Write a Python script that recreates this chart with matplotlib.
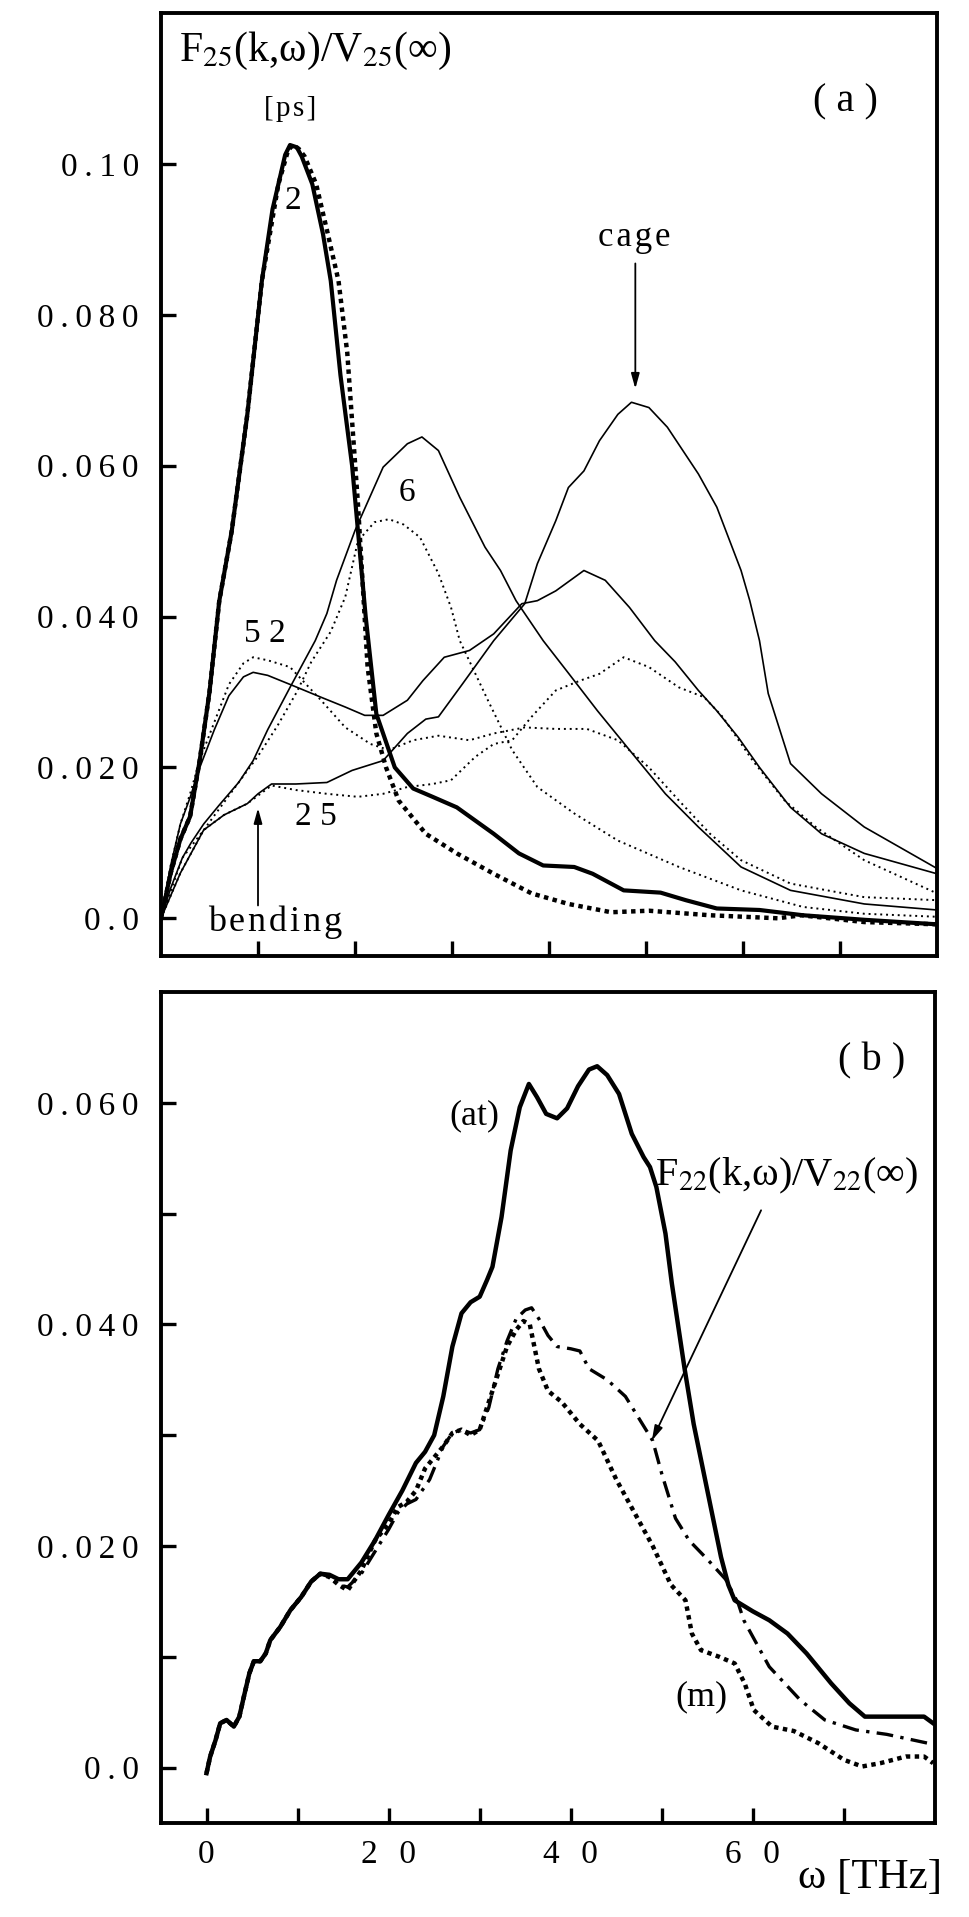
import matplotlib
matplotlib.use("Agg")
import matplotlib.pyplot as plt

plt.rcParams['font.family'] = ['Liberation Serif', 'DejaVu Serif']
plt.rcParams['mathtext.fontset'] = 'stix'

# ---------------- panel (a) data ----------------
a_solid2_x = [0, 1, 2, 3, 4, 5, 6, 7.3, 8.9, 10.4, 11.5, 12.1, 12.8, 13.3, 14, 14.5, 15.6, 16.7, 17.5, 18.5,
              19.7, 21.1, 22.2, 24.1, 26, 28, 30.5, 34.3, 36.9, 39.4, 42.6, 44.5, 47.7, 51.5, 54.1, 57.3,
              61.7, 66.2, 72.5, 80]
a_solid2_y = [0, 0.006, 0.0105, 0.0135, 0.021, 0.030, 0.042, 0.0514, 0.0668, 0.0845, 0.094, 0.0973, 0.1012,
              0.1025, 0.1022, 0.101, 0.0973, 0.0907, 0.0845, 0.072, 0.060, 0.040, 0.0271, 0.020, 0.0172,
              0.0161, 0.0147, 0.0112, 0.0086, 0.0070, 0.0068, 0.0059, 0.0037, 0.0034, 0.0024, 0.0013,
              0.0011, 0.0004, -0.0002, -0.0008]
a_dot2_x = [0, 1, 2, 3, 4, 5, 6, 7.3, 8.9, 10.4, 12.1, 13.1, 13.6, 14.2, 14.8, 16, 17.2, 18.3, 19.2, 20.3,
            21.3, 22.2, 23.2, 24.5, 27.3, 30.5, 34.3, 38.2, 42, 46.4, 50.3, 56.6, 63.6, 66, 72.5, 80]
a_dot2_y = [0, 0.006, 0.0105, 0.0135, 0.021, 0.030, 0.042, 0.0514, 0.0668, 0.0845, 0.0973, 0.1018, 0.1025,
            0.1020, 0.101, 0.0973, 0.0907, 0.0845, 0.075, 0.055, 0.0333, 0.0245, 0.020, 0.0156, 0.0112,
            0.0086, 0.0059, 0.0033, 0.0019, 0.0008, 0.001, 0.0004, 0.0, 0.0004, -0.0005, -0.0008]
a_solid6_x = [0, 1, 2.2, 3.1, 4.4, 6, 8, 9.5, 11, 13.3, 15.9, 17.1, 18.1, 20, 22.9, 25.4, 26.9, 28.6, 30.8,
              33.4, 35, 36.6, 39.4, 42, 45, 48.3, 52, 55.4, 59.8, 64.9, 72.5, 80]
a_solid6_y = [0, 0.004, 0.008, 0.010, 0.0125, 0.015, 0.018, 0.0209, 0.025, 0.0306, 0.0368, 0.0404, 0.0448,
              0.0514, 0.0598, 0.0629, 0.0638, 0.062, 0.0558, 0.0492, 0.0461, 0.0421, 0.0368, 0.0325,
              0.0275, 0.0223, 0.0165, 0.0121, 0.0068, 0.0037, 0.0019, 0.0011]
a_dot6_x = [0, 2.2, 4.4, 6, 8, 10, 12, 14, 15.5, 17.5, 19, 20.3, 22, 23.5, 25, 26.7, 28.6, 29.9, 30.8, 33.7,
            36.2, 38.8, 42.6, 47.1, 53.4, 59.8, 66.2, 72.5, 80]
a_dot6_y = [0, 0.008, 0.0117, 0.0145, 0.018, 0.0215, 0.0255, 0.030, 0.034, 0.038, 0.0426, 0.050, 0.0525,
            0.0529, 0.0522, 0.0505, 0.0457, 0.0412, 0.0368, 0.0289, 0.0223, 0.0174, 0.0139, 0.0103,
            0.0068, 0.0037, 0.0015, 0.0006, 0.0002]
a_solid52_x = [0, 1, 2, 3, 4, 5.5, 7, 8.5, 9.5, 11, 13.3, 16.5, 19, 21, 22.9, 25.4, 27, 29.2, 31.8, 34.3,
               37.2, 38.8, 40.7, 43.6, 45.8, 48.3, 50.9, 53, 55.4, 57.3, 59.5, 61.7, 64.9, 68.1, 72.5, 80]
a_solid52_y = [0, 0.007, 0.0125, 0.016, 0.020, 0.025, 0.0295, 0.032, 0.0326, 0.0322, 0.031, 0.0293, 0.028,
               0.0269, 0.0269, 0.0289, 0.0315, 0.0346, 0.0355, 0.0377, 0.0417, 0.0421, 0.0434, 0.0461,
               0.0448, 0.0412, 0.0368, 0.034, 0.0302, 0.0275, 0.024, 0.020, 0.0147, 0.0112, 0.0086, 0.0059]
a_dot52_x = [0, 1, 2, 3, 4, 5.5, 7, 8.5, 9.5, 11, 13.3, 16.5, 19, 21.6, 23.5, 26, 28.6, 31.8, 34.3, 37.5,
             40.7, 43.9, 47.1, 50.3, 53.4, 56.6, 59.8, 64.9, 72.5, 80]
a_dot52_y = [0, 0.007, 0.0125, 0.0165, 0.021, 0.026, 0.031, 0.0338, 0.0346, 0.0342, 0.0333, 0.0289, 0.0253,
             0.0231, 0.0223, 0.0236, 0.0242, 0.0236, 0.0245, 0.0253, 0.0251, 0.0251, 0.0236, 0.020,
             0.0156, 0.0112, 0.0077, 0.0046, 0.0028, 0.0024]
a_solid25_x = [0, 2, 4.4, 6.5, 8.9, 10, 11.4, 13.9, 17.1, 19.7, 22.9, 25.4, 27.3, 28.6, 31.1, 34.3, 37.5,
               38.8, 40.7, 42, 43.6, 45.2, 47.1, 48.5, 50.3, 52.2, 55.4, 57.3, 59.8, 60.7, 61.7, 62.6,
               64.9, 68.1, 72.5, 80]
a_solid25_y = [0, 0.006, 0.0117, 0.0137, 0.0152, 0.0165, 0.0178, 0.0178, 0.018, 0.0196, 0.0209, 0.0245,
               0.0264, 0.0267, 0.0311, 0.0368, 0.0417, 0.047, 0.0527, 0.0571, 0.0593, 0.0633, 0.0668,
               0.0684, 0.0677, 0.0651, 0.0589, 0.0545, 0.0461, 0.0421, 0.0368, 0.0298, 0.0205, 0.0165,
               0.0121, 0.0066]
a_dot25_x = [0, 2, 4.4, 6.5, 8.9, 11.4, 13.9, 17.1, 20.3, 22.9, 25.4, 28, 29.9, 32.4, 34.3, 36.2, 38.2,
             40.7, 43.2, 45.2, 47.7, 50.3, 53.4, 56, 57.9, 61, 64.3, 67.5, 72.5, 80]
a_dot25_y = [0, 0.006, 0.0117, 0.0137, 0.0152, 0.0176, 0.017, 0.0165, 0.0161, 0.0165, 0.0174, 0.0178,
             0.0183, 0.0214, 0.0231, 0.0236, 0.0267, 0.0302, 0.0315, 0.0324, 0.0346, 0.0333, 0.0306,
             0.0293, 0.0267, 0.0209, 0.0156, 0.0121, 0.0077, 0.0033]

a_yticks = [0.0, 0.02, 0.04, 0.06, 0.08, 0.10]
a_yticklabels = ["0.0", "0.020", "0.040", "0.060", "0.080", "0.10"]
a_xticks = [10, 20, 30, 40, 50, 60, 70]

# ---------------- panel (b) data ----------------
b_common_x = [0, 0.4, 1, 1.5, 2.2, 3.0, 3.6, 4.1, 4.7, 5.2, 5.9, 6.5, 7.0, 8.1, 9.2, 10.4, 11.5, 12.5]
b_common_y = [-0.0005, 0.001, 0.0025, 0.004, 0.0043, 0.0037, 0.0046, 0.0064, 0.0085, 0.0096, 0.0096,
              0.0103, 0.0115, 0.0127, 0.0142, 0.0154, 0.0168, 0.0175]
b_at_x = [13.5, 14.5, 15.5, 17, 18.5, 20, 21.5, 23, 24, 25, 26, 27, 28, 29, 30, 30.8, 31.4, 32.4, 33.4,
          34.4, 35.4, 36.3, 37.3, 38.5, 39.6, 40.8, 42, 42.9, 44, 45.3, 46.7, 48, 48.7, 49.4, 50.4, 51.1,
          52.5, 53.5, 54.5, 55.5, 56.5, 57.3, 58, 60, 61.8, 63.8, 65.9, 68.6, 70.6, 72.3, 76.1, 78.8, 79.8]
b_at_y = [0.0174, 0.017, 0.017, 0.0185, 0.0205, 0.0228, 0.025, 0.0275, 0.0285, 0.030, 0.0335, 0.038,
          0.041, 0.042, 0.0425, 0.044, 0.0452, 0.0497, 0.0557, 0.0596, 0.0617, 0.0605, 0.059, 0.0586,
          0.0595, 0.0615, 0.063, 0.0633, 0.0625, 0.0608, 0.0572, 0.0551, 0.0542, 0.0524, 0.0482, 0.0437,
          0.036, 0.031, 0.027, 0.023, 0.019, 0.0165, 0.0151, 0.0141, 0.0133, 0.0121, 0.0103, 0.0076,
          0.0058, 0.0046, 0.0046, 0.0046, 0.004]
b_dd_x = [13.5, 14.5, 15.5, 17, 18.5, 20, 21, 22, 23, 24.5, 26, 27, 28, 29, 30, 31, 32, 33, 34, 35, 35.7,
          36.5, 37.5, 38.5, 40, 41, 42, 44, 46, 47.5, 49, 50, 51.5, 53, 55, 57, 58.4, 59, 61.8, 65.2, 67.9,
          71.3, 74.7, 79.8]
b_dd_y = [0.0172, 0.0165, 0.0163, 0.0175, 0.0195, 0.0215, 0.023, 0.0238, 0.0242, 0.026, 0.029, 0.0302,
          0.0305, 0.0302, 0.0305, 0.0325, 0.036, 0.0385, 0.0405, 0.0413, 0.0415, 0.0405, 0.039, 0.038,
          0.0378, 0.0376, 0.036, 0.035, 0.0335, 0.0315, 0.0295, 0.0265, 0.0225, 0.0205, 0.0188, 0.017,
          0.0148, 0.0133, 0.0091, 0.0061, 0.0043, 0.0034, 0.003, 0.0021]
b_m_x = [13.5, 14.5, 15.5, 17, 18.5, 20, 21, 22, 23, 24, 25, 26, 27, 28, 29, 30, 31, 32, 33, 34, 34.8,
         35.5, 36.5, 37.5, 39, 40, 41, 43, 45, 47, 49, 51, 52.6, 53.3, 54.3, 56.3, 58, 59.1, 60.1, 62.1,
         64.5, 67.2, 70, 72, 74, 76.8, 78.8, 79.8]
b_m_y = [0.0172, 0.0165, 0.016, 0.0178, 0.0205, 0.022, 0.0235, 0.024, 0.025, 0.027, 0.028, 0.029, 0.0302,
         0.0305, 0.030, 0.0305, 0.033, 0.0355, 0.038, 0.0395, 0.0403, 0.040, 0.036, 0.034, 0.033, 0.032,
         0.031, 0.0295, 0.026, 0.023, 0.020, 0.0165, 0.0151, 0.0121, 0.0106, 0.010, 0.0094, 0.0076,
         0.0052, 0.0037, 0.0033, 0.0022, 0.0007, 0.0001, 0.0004, 0.001, 0.001, 0.0004]

b_yticks = [0.0, 0.01, 0.02, 0.03, 0.04, 0.05, 0.06]
b_yticklabels = ["0.0", "", "0.020", "", "0.040", "", "0.060"]
b_xticks = [0, 10, 20, 30, 40, 50, 60, 70]
b_xticklabels = ["0", "", "2 0", "", "4 0", "", "6 0", ""]


def track(s, sp="\u200a"):
    return sp.join(s)


W, H = 969, 1917
fig = plt.figure(figsize=(W / 100, H / 100), dpi=100)
ax_a = fig.add_axes([161 / W, 1 - 956 / H, (937 - 161) / W, (956 - 13) / H])
ax_b = fig.add_axes([161 / W, 1 - 1823 / H, (935 - 161) / W, (1823 - 992) / H])

for ax in (ax_a, ax_b):
    for sp in ax.spines.values():
        sp.set_linewidth(2.8)
    ax.tick_params(direction='in', length=11, width=2.4, labelsize=24, pad=16)
    ax.tick_params(axis='x', pad=12)

# ---- panel (a) ----
ax_a.set_xlim(0, 80)
ax_a.set_ylim(-0.005, 0.12)
ax_a.plot(a_solid2_x, a_solid2_y, '-', color='black', lw=3.0, solid_joinstyle='round')
ax_a.plot(a_dot2_x, a_dot2_y, color='black', lw=3.2, linestyle=(0, (1, 1)), dash_capstyle='butt')
thin = dict(color='black', lw=1.2)
ax_a.plot(a_solid6_x, a_solid6_y, '-', **thin)
ax_a.plot(a_solid52_x, a_solid52_y, '-', **thin)
ax_a.plot(a_solid25_x, a_solid25_y, '-', **thin)
dots = dict(color='black', lw=1.4, linestyle=(0, (1, 2)))
ax_a.plot(a_dot6_x, a_dot6_y, **dots)
ax_a.plot(a_dot52_x, a_dot52_y, **dots)
ax_a.plot(a_dot25_x, a_dot25_y, **dots)

ax_a.set_xticks(a_xticks)
ax_a.set_xticklabels([])
ax_a.set_yticks(a_yticks)
ax_a.set_yticklabels([track(t, "\u2009") for t in a_yticklabels])

ax_a.text(1.9, 0.1150, 'F$_{25}$(k,ω)/V$_{25}$(∞)', fontsize=30, ha='left', va='center')
ax_a.text(13.3, 0.1073, track("[ps]"), fontsize=21, ha='center', va='center')
ax_a.text(70.6, 0.1082, "( a )", fontsize=29, ha='center', va='center')
ax_a.text(13.6, 0.0951, "2", fontsize=24, ha='center', va='center')
ax_a.text(25.4, 0.0564, "6", fontsize=24, ha='center', va='center')
ax_a.text(10.7, 0.0377, "5 2", fontsize=24, ha='center', va='center')
ax_a.text(16.0, 0.0134, "2 5", fontsize=24, ha='center', va='center')
ax_a.text(11.8, -0.0005, track("bending"), fontsize=26, ha='center', va='center')
ax_a.text(48.8, 0.0902, track("cage"), fontsize=25, ha='center', va='center')
arrow = dict(arrowstyle='-|>,head_length=0.9,head_width=0.25', color='black', lw=1.3,
             shrinkA=0, shrinkB=0)
ax_a.annotate("", xy=(10.0, 0.0146), xytext=(10.0, 0.0017), arrowprops=arrow)
ax_a.annotate("", xy=(48.9, 0.0702), xytext=(48.9, 0.0868), arrowprops=arrow)

# ---- panel (b) ----
ax_b.set_xlim(-5, 80)
ax_b.set_ylim(-0.005, 0.07)
ax_b.plot(b_common_x + b_at_x, b_common_y + b_at_y, '-', color='black', lw=3.2, solid_joinstyle='round')
ax_b.plot(b_common_x + b_dd_x, b_common_y + b_dd_y, color='black', lw=2.4,
          linestyle=(0, (5, 2.2, 1, 2.2)), dash_capstyle='butt')
ax_b.plot(b_common_x + b_m_x, b_common_y + b_m_y, color='black', lw=3.2,
          linestyle=(0, (1, 1)), dash_capstyle='butt')

ax_b.set_xticks(b_xticks)
ax_b.set_xticklabels([t.replace(" ", "\u2009 \u2009") for t in b_xticklabels])
ax_b.set_yticks(b_yticks)
ax_b.set_yticklabels([track(t, "\u2009") if t else "" for t in b_yticklabels])

ax_b.text(73.0, 0.0638, "( b )", fontsize=29, ha='center', va='center')
ax_b.text(29.4, 0.0588, "(at)", fontsize=26, ha='center', va='center')
ax_b.text(49.3, 0.0534, 'F$_{22}$(k,ω)/V$_{22}$(∞)', fontsize=29, ha='left', va='center')
ax_b.text(54.4, 0.0064, "(m)", fontsize=26, ha='center', va='center')
ax_b.annotate("", xy=(48.9, 0.0295), xytext=(60.9, 0.0503), arrowprops=arrow)

fig.text(870 / W, 1 - 1878 / H, "ω [THz]", fontsize=31, ha='center', va='center')

fig.savefig("out.png", dpi=100)
